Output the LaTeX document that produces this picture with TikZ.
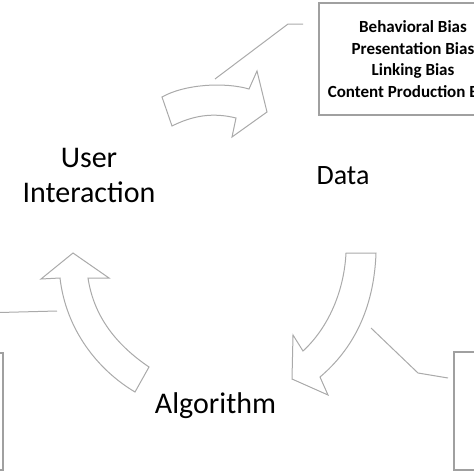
\documentclass[tikz,border=0pt]{standalone}
\usepackage{fontspec}
\setmainfont{Carlito}
\usetikzlibrary{positioning}
\definecolor{cline}{RGB}{170,170,170}
\definecolor{cbox}{RGB}{160,160,160}

\begin{document}
\begin{tikzpicture}[
    x=1pt, y=-1pt,
    stage/.style={font=\fontsize{30}{35}\selectfont, align=center, text=black},
    biasbox/.style={draw=cbox, line width=1.2pt, inner sep=0pt},
    blockarrow/.style={draw=cline, line width=1pt, fill=white, line join=miter},
    leader/.style={draw=cline, line width=1pt}
  ]
  \useasboundingbox (0,0) rectangle (474,474);
  \clip (0,0) rectangle (474,474);

  % boxes
  \node[biasbox, minimum width=188pt, minimum height=112pt,
        font=\fontsize{17}{21.7}\selectfont\bfseries, align=center] (top) at (413,59) {
    Behavioral Bias\\ Presentation Bias\\ Linking Bias\\ Content Production Bias
  };
  \node[biasbox, minimum width=190pt, minimum height=117pt] (left) at (-92,411.5) {};
  \node[biasbox, minimum width=190pt, minimum height=118pt] (right) at (549,411) {};

  % stages
  \node[stage] (user) at (89,175) {User\\Interaction};
  \node[stage, font=\fontsize{28}{33}\selectfont, anchor=base] (data) at (343,184) {Data};
  \node[stage, anchor=base] (algo) at (215.5,413) {Algorithm};

  % curved block arrows
  \draw[blockarrow] (162,97) .. controls (185,84) and (225,82) .. (249,89)
    -- (257,71) -- (267,112) -- (232,137) -- (236,118)
    .. controls (212,112) and (192,116) .. (172,126) -- cycle;
  \draw[blockarrow] (346,253) -- (376,253)
    .. controls (374,310) and (352,350) .. (320,377)
    -- (328,395) -- (292,379) -- (293,335) -- (303,351)
    .. controls (328,328) and (344,292) .. (346,253) -- cycle;
  \draw[blockarrow] (73,253) -- (109,278) -- (88,278)
    .. controls (94,318) and (118,346) .. (149,367)
    -- (135,392)
    .. controls (98,370) and (66,330) .. (60,278) -- (41,279) -- cycle;

  % leaders
  \coordinate (topA) at (215,79);
  \coordinate (topB) at (288,24);
  \coordinate (topC) at (303,24);
  \draw[leader] (topA) -- (topB) -- (topC);
  \coordinate (leftA) at (57,311);
  \coordinate (leftB) at (-20,313);
  \draw[leader] (leftA) -- (leftB);
  \coordinate (rightA) at (371,328);
  \coordinate (rightB) at (418,373);
  \coordinate (rightC) at (448,378);
  \draw[leader] (rightA) -- (rightB) -- (rightC);
\end{tikzpicture}
\end{document}
